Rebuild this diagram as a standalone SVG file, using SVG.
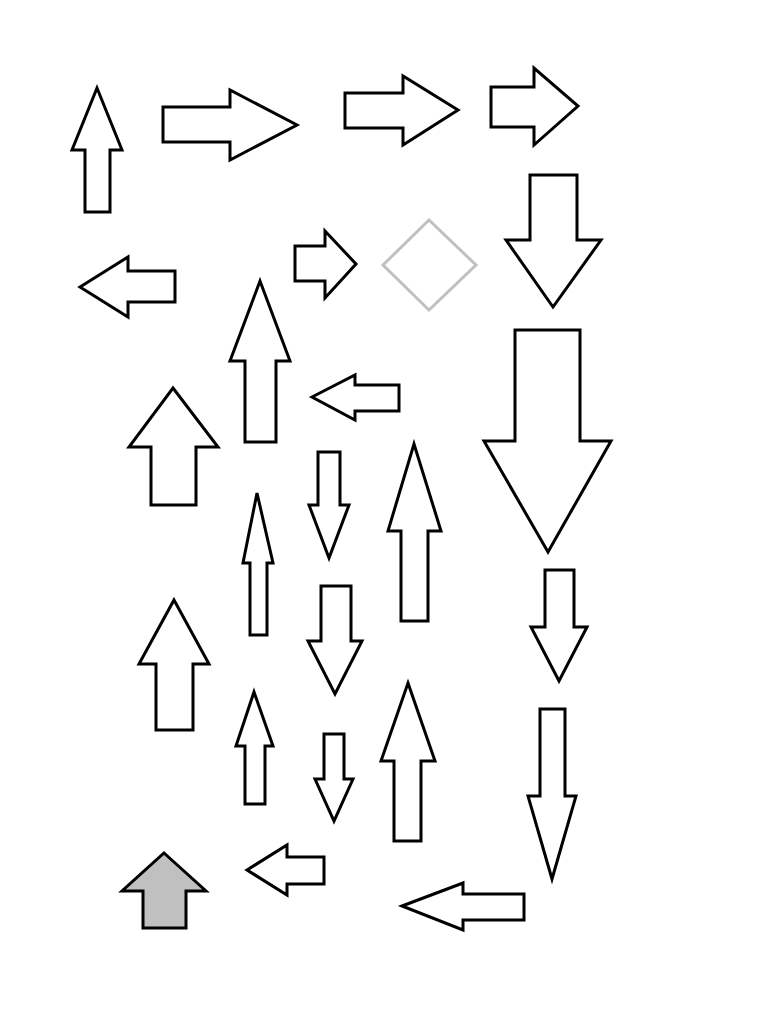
<svg xmlns="http://www.w3.org/2000/svg" width="768" height="1024" viewBox="0 0 768 1024">
<style>.a{fill:#fff;stroke:#000;stroke-width:3;stroke-linejoin:miter}.g{fill:#c0c0c0}</style>
<rect width="768" height="1024" fill="#fff"/>
<polygon class="a" points="97,88 122,150 110,150 110,212 85,212 85,150 72,150"/>
<polygon class="a" points="163,107 230,107 230,90 297,125 230,160 230,142 163,142"/>
<polygon class="a" points="345,93 403,93 403,76 458,110 403,145 403,128 345,128"/>
<polygon class="a" points="491,87 534,87 534,68 578,106 534,145 534,127 491,127"/>
<polygon class="a" points="530,175 577,175 577,240 601,240 553,307 506,240 530,240"/>
<polygon class="a" points="80,287 128,257 128,271 175,271 175,302 128,302 128,317"/>
<polygon class="a" points="295,246 325,246 325,231 356,264 325,298 325,281 295,281"/>
<polygon points="383,265 429,220 476,265 429,310" fill="none" stroke="#c0c0c0" stroke-width="3"/>
<polygon class="a" points="260,281 290,361 276,361 276,442 245,442 245,361 230,361"/>
<polygon class="a" points="312,397 355,375 355,385 399,385 399,411 355,411 355,420"/>
<polygon class="a" points="515,330 580,330 580,441 611,441 548,552 484,441 515,441"/>
<polygon class="a" points="173,388 218,447 196,447 196,505 151,505 151,447 129,447"/>
<polygon class="a" points="318,452 340,452 340,505 349,505 329,558 309,505 318,505"/>
<polygon class="a" points="414,444 441,531 428,531 428,621 401,621 401,531 388,531"/>
<polygon class="a" points="257,493 273,563 267,563 267,635 250,635 250,563 243,563"/>
<polygon class="a" points="545,570 574,570 574,627 587,627 559,681 531,627 545,627"/>
<polygon class="a" points="174,600 209,664 193,664 193,730 156,730 156,664 139,664"/>
<polygon class="a" points="321,586 351,586 351,641 362,641 335,694 308,641 321,641"/>
<polygon class="a" points="254,692 273,746 265,746 265,804 245,804 245,746 236,746"/>
<polygon class="a" points="324,734 344,734 344,779 353,779 334,821 315,779 324,779"/>
<polygon class="a" points="408,683 435,761 421,761 421,841 394,841 394,761 381,761"/>
<polygon class="a" points="540,709 565,709 565,796 576,796 552,879 528,796 540,796"/>
<polygon class="a g" points="164,853 206,891 186,891 186,928 143,928 143,891 122,891"/>
<polygon class="a" points="247,870 287,845 287,857 324,857 324,884 287,884 287,895"/>
<polygon class="a" points="402,906 463,883 463,894 524,894 524,920 463,920 463,930"/>
</svg>
